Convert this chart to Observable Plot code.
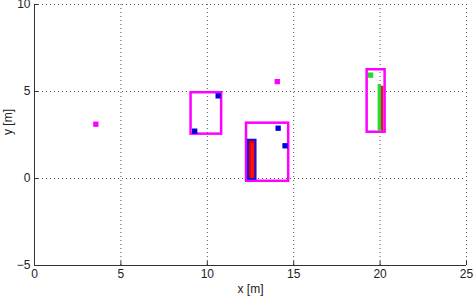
<!DOCTYPE html>
<html><head><meta charset="utf-8">
<script src="https://cdn.jsdelivr.net/npm/d3@7"></script>
<script src="https://cdn.jsdelivr.net/npm/@observablehq/plot@0.6"></script>
<style>body{margin:0;background:#fff;} svg{display:block;}</style>
</head><body><div id="chart"></div>
<script>
const xTicks = [0, 5, 10, 15, 20, 25];
const yTicks = [-5, 0, 5, 10];
// detection boxes [x1, x2, y1, y2]
const boxX1 = [9.06, 12.27, 19.25];
const boxX2 = [10.83, 14.71, 20.29];
const boxY1 = [2.55, -0.16, 2.66];
const boxY2 = [4.93, 3.18, 6.25];
// magenta points
const magX = [3.55, 14.05];
const magY = [3.12, 5.57];
// blue points
const blueX = [10.63, 9.27, 14.1, 14.5];
const blueY = [4.75, 2.72, 2.89, 1.88];
// green point
const greenX = [19.45];
const greenY = [5.94];
// blue track outline
const trackBoxX1 = [12.38];
const trackBoxX2 = [12.82];
const trackBoxY1 = [-0.05];
const trackBoxY2 = [2.2];
// red track in box 2
const redX = [12.6];
const redY1 = [0.0];
const redY2 = [2.0];
// right track: green and red
const gTrackX = [19.96];
const gTrackY1 = [2.72];
const gTrackY2 = [5.4];
const rTrackX = [20.12];
const rTrackY1 = [2.72];
const rTrackY2 = [5.3];

const boxes = boxX1.map((d, i) => ({x1: d, x2: boxX2[i], y1: boxY1[i], y2: boxY2[i]}));
const tb = trackBoxX1.map((d, i) => ({x1: d, x2: trackBoxX2[i], y1: trackBoxY1[i], y2: trackBoxY2[i]}));
const mag = magX.map((d, i) => ({x: d, y: magY[i]}));
const blue = blueX.map((d, i) => ({x: d, y: blueY[i]}));
const green = greenX.map((d, i) => ({x: d, y: greenY[i]}));
const red = redX.map((d, i) => ({x: d, y1: redY1[i], y2: redY2[i]}));
const gT = gTrackX.map((d, i) => ({x: d, y1: gTrackY1[i], y2: gTrackY2[i]}));
const rT = rTrackX.map((d, i) => ({x: d, y1: rTrackY1[i], y2: rTrackY2[i]}));

const chart = Plot.plot({
  width: 474, height: 296,
  marginLeft: 34, marginRight: 8, marginTop: 4, marginBottom: 31,
  style: {fontFamily: "'Liberation Sans', Arial, sans-serif", fontSize: "12px", color: "#222", background: "#fff"},
  x: {domain: [0, 25], ticks: xTicks},
  y: {domain: [-5, 10], ticks: yTicks},
  marks: [
    Plot.gridX(xTicks.slice(1), {stroke: "#555", strokeOpacity: 1, strokeDasharray: "1,3", strokeWidth: 1}),
    Plot.gridY(yTicks.slice(1), {stroke: "#555", strokeOpacity: 1, strokeDasharray: "1,3", strokeWidth: 1}),
    Plot.ruleY([-5], {stroke: "#333"}),
    Plot.ruleX([0], {stroke: "#333"}),
    Plot.axisX(xTicks, {tickSize: -4, tickPadding: 8, stroke: "#333", fill: "#222", label: null}),
    Plot.axisY(yTicks, {tickSize: -4, tickPadding: 8, stroke: "#333", fill: "#222", label: null}),
    Plot.text(["x [m]"], {frameAnchor: "bottom", dy: 27, fill: "#222"}),
    Plot.text(["y [m]"], {frameAnchor: "left", dx: -26, rotate: -90, fill: "#222"}),
    Plot.rect(boxes, {x1: "x1", x2: "x2", y1: "y1", y2: "y2", fill: "none", stroke: "#ff00ff", strokeWidth: 2.5}),
    Plot.rect(tb, {x1: "x1", x2: "x2", y1: "y1", y2: "y2", fill: "#e00000", stroke: "#1010e0", strokeWidth: 2}),
    Plot.ruleX(red, {x: "x", y1: "y1", y2: "y2", stroke: "#ff1010", strokeWidth: 3}),
    Plot.ruleX(gT, {x: "x", y1: "y1", y2: "y2", stroke: "#22dd22", strokeWidth: 3.5}),
    Plot.ruleX(rT, {x: "x", y1: "y1", y2: "y2", stroke: "#e0105a", strokeWidth: 2.5}),
    Plot.dot(mag, {x: "x", y: "y", symbol: "square", r: 3, fill: "#ff00ff"}),
    Plot.dot(blue, {x: "x", y: "y", symbol: "square", r: 3, fill: "#0000dd"}),
    Plot.dot(green, {x: "x", y: "y", symbol: "square", r: 3, fill: "#22dd22"})
  ]
});
document.getElementById("chart").append(chart);
</script></body></html>
